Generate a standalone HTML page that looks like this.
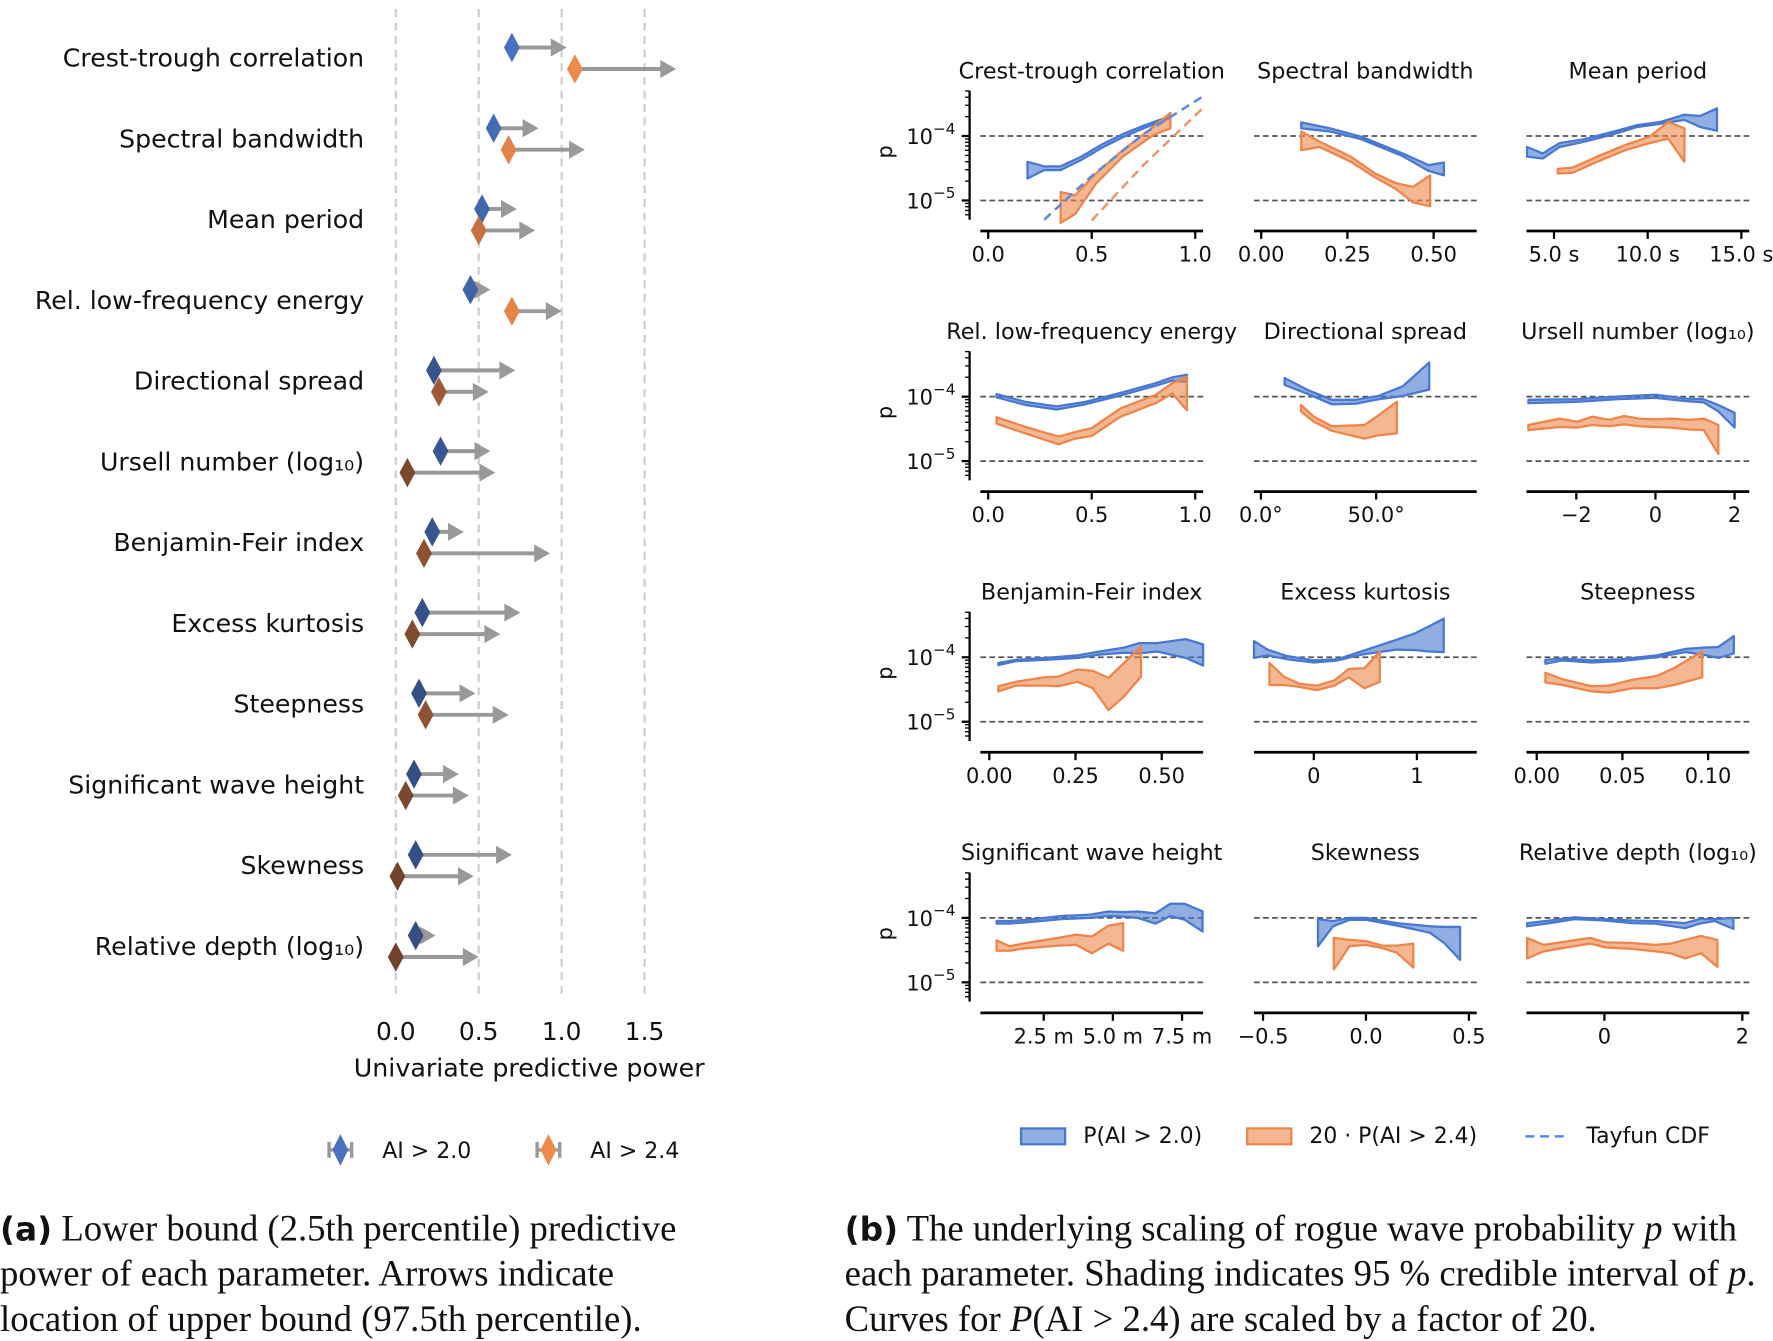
<!DOCTYPE html>
<html><head><meta charset="utf-8">
<style>
html,body{margin:0;padding:0;background:#fff;}
svg{display:block;}
text{font-family:"DejaVu Sans","Liberation Sans",sans-serif;fill:#111;}
.cap{font-family:"Liberation Serif",serif;font-size:32.5px;}
</style></head>
<body>
<svg id="fig" xmlns="http://www.w3.org/2000/svg" width="1773" height="1341" viewBox="0 0 1568 1186">
  <rect x="0" y="0" width="1568" height="1186" fill="#fff"/>
  <g>
    <g>
      <line x1="291" y1="1017" x2="311" y2="1017" stroke="#999" stroke-width="3"/>
      <line x1="291" y1="1010" x2="291" y2="1024" stroke="#999" stroke-width="3"/>
      <line x1="311" y1="1010" x2="311" y2="1024" stroke="#999" stroke-width="3"/>
      <polygon points="301,1003 308,1017 301,1031 294,1017" fill="#4a72c0"/>
      <text x="338" y="1024" font-size="19.5">AI &gt; 2.0</text>
    </g>
    <g>
      <line x1="475" y1="1017" x2="495" y2="1017" stroke="#999" stroke-width="3"/>
      <line x1="475" y1="1010" x2="475" y2="1024" stroke="#999" stroke-width="3"/>
      <line x1="495" y1="1010" x2="495" y2="1024" stroke="#999" stroke-width="3"/>
      <polygon points="485,1003 492,1017 485,1031 478,1017" fill="#ee8a4a"/>
      <text x="522" y="1024" font-size="19.5">AI &gt; 2.4</text>
    </g>
  </g>
  <g>
    <g>
      <rect x="903" y="998" width="39" height="14" fill="rgba(72,120,208,0.6)" stroke="#4878d0" stroke-width="2"/>
      <text x="958" y="1011" font-size="19.4">P(AI &gt; 2.0)</text>
    </g>
    <g>
      <rect x="1103" y="998" width="39" height="14" fill="rgba(238,133,74,0.6)" stroke="#ee854a" stroke-width="2"/>
      <text x="1158" y="1011" font-size="19.4">20 · P(AI &gt; 2.4)</text>
    </g>
    <g>
      <line x1="1349" y1="1005" x2="1388" y2="1005" stroke="#5b8be0" stroke-width="2.2" stroke-dasharray="8,5"/>
      <text x="1403" y="1011" font-size="19.4">Tayfun CDF</text>
    </g>
  </g>
  <g>
    <text class="cap" x="0" y="1097"><tspan font-family="DejaVu Sans, sans-serif" font-weight="bold" font-size="29">(a)</tspan> Lower bound (2.5th percentile) predictive</text>
    <text class="cap" x="0" y="1137">power of each parameter. Arrows indicate</text>
    <text class="cap" x="0" y="1177">location of upper bound (97.5th percentile).</text>
  </g>
  <g>
    <text class="cap" x="747" y="1097"><tspan font-family="DejaVu Sans, sans-serif" font-weight="bold" font-size="29">(b)</tspan> The underlying scaling of rogue wave probability <tspan font-style="italic">p</tspan> with</text>
    <text class="cap" x="747" y="1137">each parameter. Shading indicates 95 % credible interval of <tspan font-style="italic">p</tspan>.</text>
    <text class="cap" x="747" y="1177">Curves for <tspan font-style="italic">P</tspan>(AI &gt; 2.4) are scaled by a factor of 20.</text>
  </g>
</svg>
<script>
const paramLabels = ["Crest-trough correlation","Spectral bandwidth","Mean period","Rel. low-frequency energy","Directional spread","Ursell number (log₁₀)","Benjamin-Feir index","Excess kurtosis","Steepness","Significant wave height","Skewness","Relative depth (log₁₀)"];
const blueLow = [0.70,0.59,0.52,0.45,0.23,0.27,0.22,0.16,0.14,0.11,0.12,0.12];
const blueHigh = [1.03,0.86,0.73,0.57,0.72,0.57,0.41,0.75,0.48,0.38,0.70,0.24];
const orangeLow = [1.08,0.68,0.50,0.70,0.26,0.07,0.17,0.10,0.18,0.06,0.01,0.00];
const orangeHigh = [1.69,1.14,0.84,1.00,0.56,0.60,0.93,0.63,0.68,0.44,0.47,0.50];
const leftTicks = [0,0.5,1.0,1.5];
const leftTickLabels = ["0.0","0.5","1.0","1.5"];

const crestBX=[0.19,0.27,0.35,0.45,0.55,0.65,0.75,0.88];
const crestBU=[-4.40,-4.47,-4.47,-4.32,-4.13,-3.97,-3.84,-3.69];
const crestBL=[-4.66,-4.53,-4.53,-4.37,-4.18,-4.02,-3.88,-3.72];
const crestOX=[0.35,0.42,0.52,0.65,0.80,0.88];
const crestOU=[-4.87,-4.92,-4.58,-4.22,-3.85,-3.64];
const crestOL=[-5.35,-5.21,-4.74,-4.32,-3.98,-3.88];
const tayfunBX=[0.27,0.5,0.75,1.03];
const tayfunBY=[-5.30,-4.62,-3.97,-3.40];
const tayfunOX=[0.50,0.75,1.03];
const tayfunOY=[-5.31,-4.45,-3.59];

const specBX=[0.116,0.20,0.29,0.41,0.485,0.53];
const specBU=[-3.79,-3.88,-4.01,-4.27,-4.45,-4.41];
const specBL=[-3.88,-3.93,-4.05,-4.31,-4.54,-4.61];
const specOX=[0.116,0.17,0.26,0.33,0.39,0.44,0.49];
const specOU=[-3.93,-4.09,-4.32,-4.58,-4.73,-4.79,-4.61];
const specOL=[-4.22,-4.17,-4.40,-4.64,-4.82,-5.03,-5.09];

const periodBX=[3.56,4.4,5.3,6.6,8.2,9.45,10.7,11.96,12.8,13.7];
const periodBU=[-4.17,-4.27,-4.11,-4.05,-3.93,-3.83,-3.78,-3.67,-3.69,-3.57];
const periodBL=[-4.32,-4.35,-4.17,-4.09,-3.97,-3.86,-3.81,-3.75,-3.86,-3.92];
const periodOX=[5.2,6.0,7.3,8.8,10.1,11.1,11.96];
const periodOU=[-4.51,-4.49,-4.32,-4.14,-4.01,-3.78,-3.88];
const periodOL=[-4.58,-4.57,-4.40,-4.22,-4.11,-4.04,-4.40];

const lowfBX=[0.04,0.18,0.33,0.47,0.64,0.81,0.89,0.96];
const lowfBU=[-3.96,-4.08,-4.15,-4.08,-3.94,-3.79,-3.70,-3.66];
const lowfBL=[-4.01,-4.13,-4.20,-4.12,-3.98,-3.83,-3.75,-3.77];
const lowfOX=[0.04,0.18,0.34,0.42,0.50,0.64,0.81,0.89,0.96];
const lowfOU=[-4.32,-4.47,-4.62,-4.55,-4.49,-4.18,-3.97,-3.79,-3.69];
const lowfOL=[-4.42,-4.57,-4.74,-4.65,-4.61,-4.31,-4.10,-3.95,-4.21];

const dirBX=[10.3,20.5,30.8,41,51,61.5,73];
const dirBU=[-3.71,-3.90,-4.05,-4.05,-3.99,-3.84,-3.47];
const dirBL=[-3.82,-3.96,-4.12,-4.11,-4.04,-3.99,-3.89];
const dirOX=[17.4,23,30.8,44.9,51,59];
const dirOU=[-4.13,-4.31,-4.46,-4.44,-4.29,-4.08];
const dirOL=[-4.23,-4.39,-4.53,-4.65,-4.60,-4.57];

const ursBX=[-3.21,-2,-1,0,0.77,1.22,1.59,2];
const ursBU=[-4.05,-4.04,-4.00,-3.97,-4.03,-4.04,-4.13,-4.25];
const ursBL=[-4.10,-4.08,-4.04,-4.02,-4.07,-4.09,-4.23,-4.48];
const ursOX=[-3.21,-2.42,-1.98,-1.6,-1.16,-0.79,-0.42,0,0.4,0.85,1.22,1.59];
const ursOU=[-4.44,-4.34,-4.39,-4.31,-4.36,-4.30,-4.34,-4.35,-4.34,-4.36,-4.34,-4.44];
const ursOL=[-4.52,-4.47,-4.48,-4.44,-4.46,-4.43,-4.46,-4.47,-4.48,-4.51,-4.52,-4.89];

const bfiBX=[0.026,0.077,0.16,0.256,0.32,0.39,0.435,0.486,0.57,0.62];
const bfiBU=[-4.09,-4.04,-4.01,-3.97,-3.91,-3.85,-3.78,-3.78,-3.72,-3.80];
const bfiBL=[-4.12,-4.06,-4.04,-4.01,-3.96,-3.93,-3.94,-3.91,-4.01,-4.13];
const bfiOX=[0.026,0.077,0.16,0.20,0.256,0.30,0.346,0.39,0.44];
const bfiOU=[-4.45,-4.38,-4.31,-4.30,-4.19,-4.21,-4.32,-4.09,-3.83];
const bfiOL=[-4.53,-4.44,-4.44,-4.45,-4.38,-4.48,-4.82,-4.61,-4.30];

const kurtBX=[-0.58,-0.45,-0.26,0,0.23,0.46,0.80,0.98,1.12,1.26];
const kurtBU=[-3.75,-3.88,-3.98,-4.05,-4.03,-3.91,-3.73,-3.63,-3.52,-3.40];
const kurtBL=[-4.01,-3.97,-4.03,-4.08,-4.05,-3.96,-3.88,-3.89,-3.91,-3.92];
const kurtOX=[-0.43,-0.29,-0.14,0.03,0.2,0.34,0.49,0.64];
const kurtOU=[-4.09,-4.30,-4.41,-4.44,-4.36,-4.18,-4.17,-3.91];
const kurtOL=[-4.43,-4.43,-4.46,-4.51,-4.44,-4.31,-4.48,-4.38];

const steepBX=[0.005,0.015,0.032,0.049,0.070,0.087,0.097,0.106,0.115];
const steepBU=[-4.04,-4.02,-4.05,-4.03,-3.97,-3.87,-3.85,-3.84,-3.67];
const steepBL=[-4.10,-4.05,-4.08,-4.06,-4.00,-3.92,-3.96,-4.01,-3.94];
const steepOX=[0.005,0.015,0.032,0.042,0.056,0.070,0.080,0.0966];
const steepOU=[-4.24,-4.34,-4.45,-4.44,-4.35,-4.29,-4.17,-3.91];
const steepOL=[-4.39,-4.43,-4.53,-4.55,-4.48,-4.48,-4.43,-4.31];

const hsBX=[0.8,1.22,1.86,3.14,4.2,4.84,5.37,5.9,6.54,7.07,7.6,8.24];
const hsBU=[-4.05,-4.05,-4.03,-3.97,-3.95,-3.90,-3.91,-3.90,-3.93,-3.78,-3.78,-3.90];
const hsBL=[-4.09,-4.09,-4.07,-4.02,-4.00,-3.97,-3.98,-4.00,-4.09,-3.97,-4.03,-4.21];
const hsOX=[0.8,1.27,1.86,3.03,3.67,4.24,4.84,5.37];
const hsOU=[-4.35,-4.44,-4.39,-4.31,-4.26,-4.29,-4.12,-4.08];
const hsOL=[-4.51,-4.51,-4.47,-4.43,-4.42,-4.55,-4.40,-4.51];

const skewBX=[-0.233,-0.16,-0.08,0,0.15,0.31,0.38,0.457];
const skewBU=[-4.02,-4.05,-4.00,-4.00,-4.08,-4.13,-4.14,-4.14];
const skewBL=[-4.44,-4.13,-4.03,-4.03,-4.12,-4.23,-4.39,-4.65];
const skewOX=[-0.156,-0.08,0,0.08,0.15,0.23];
const skewOU=[-4.31,-4.34,-4.36,-4.43,-4.43,-4.40];
const skewOL=[-4.80,-4.44,-4.42,-4.47,-4.54,-4.77];

const depthBX=[-1.12,-0.79,-0.43,0,0.4,0.74,1.17,1.38,1.6,1.87];
const depthBU=[-4.08,-4.04,-3.99,-4.02,-4.04,-4.05,-4.08,-4.02,-4.02,-4.00];
const depthBL=[-4.13,-4.08,-4.02,-4.04,-4.08,-4.09,-4.16,-4.09,-4.05,-4.17];
const depthOX=[-1.12,-0.88,-0.45,-0.2,0.02,0.4,0.74,0.96,1.17,1.4,1.64];
const depthOU=[-4.31,-4.42,-4.35,-4.31,-4.38,-4.39,-4.42,-4.40,-4.34,-4.28,-4.34];
const depthOL=[-4.63,-4.52,-4.44,-4.40,-4.46,-4.48,-4.52,-4.55,-4.63,-4.55,-4.76];

const panelTitles=["Crest-trough correlation","Spectral bandwidth","Mean period","Rel. low-frequency energy","Directional spread","Ursell number (log₁₀)","Benjamin-Feir index","Excess kurtosis","Steepness","Significant wave height","Skewness","Relative depth (log₁₀)"];
const panelTicks=[[0,0.5,1],[0,0.25,0.5],[5,10,15],[0,0.5,1],[0,50],[-2,0,2],[0,0.25,0.5],[0,1],[0,0.05,0.1],[2.5,5,7.5],[-0.5,0,0.5],[0,2]];
const panelTickLabels=[["0.0","0.5","1.0"],["0.00","0.25","0.50"],["5.0 s","10.0 s","15.0 s"],["0.0","0.5","1.0"],["0.0°","50.0°"],["−2","0","2"],["0.00","0.25","0.50"],["0","1"],["0.00","0.05","0.10"],["2.5 m","5.0 m","7.5 m"],["−0.5","0.0","0.5"],["0","2"]];
const panelBlue=[[crestBX,crestBU,crestBL],[specBX,specBU,specBL],[periodBX,periodBU,periodBL],[lowfBX,lowfBU,lowfBL],[dirBX,dirBU,dirBL],[ursBX,ursBU,ursBL],[bfiBX,bfiBU,bfiBL],[kurtBX,kurtBU,kurtBL],[steepBX,steepBU,steepBL],[hsBX,hsBU,hsBL],[skewBX,skewBU,skewBL],[depthBX,depthBU,depthBL]];
const panelOrange=[[crestOX,crestOU,crestOL],[specOX,specOU,specOL],[periodOX,periodOU,periodOL],[lowfOX,lowfOU,lowfOL],[dirOX,dirOU,dirOL],[ursOX,ursOU,ursOL],[bfiOX,bfiOU,bfiOL],[kurtOX,kurtOU,kurtOL],[steepOX,steepOU,steepOL],[hsOX,hsOU,hsOL],[skewOX,skewOU,skewOL],[depthOX,depthOU,depthOL]];
const panelDomains=[[-0.038,1.038],[-0.021,0.625],[3.53,15.42],[-0.038,1.038],[-3,93.6],[-3.26,2.37],[-0.026,0.62],[-0.58,1.58],[-0.006,0.124],[0.21,8.26],[-0.544,0.538],[-1.13,2.1]];

const NS='http://www.w3.org/2000/svg';
const svg=document.getElementById('fig');
function mk(tag, attrs, parent){const e=document.createElementNS(NS,tag);for(const k in attrs)e.setAttribute(k,attrs[k]);(parent||svg).appendChild(e);return e;}
function lerp(a,b,t){return Math.round(a+(b-a)*t);}
function mix(c1,c2,t){return `rgb(${lerp(c1[0],c2[0],t)},${lerp(c1[1],c2[1],t)},${lerp(c1[2],c2[2],t)})`;}

const leftX = v => 350 + v*146.7;
const rowY = i => 52 + i*71.4;
const left = mk('g',{});


leftTicks.forEach((t,k)=>{
  const g=mk('line',{x1:leftX(t),x2:leftX(t),y1:8,y2:884,stroke:'#cfcfcf','stroke-width':2,'stroke-dasharray':'7,5'},left);
  
  
  const tl=mk('text',{x:leftX(t),y:920,'font-size':22,'text-anchor':'middle'},left);
  tl.textContent=leftTickLabels[k];
  
  
});
const xt=mk('text',{x:468,y:952,'font-size':22.4,'text-anchor':'middle'},left);
xt.textContent='Univariate predictive power';



function drawEntry(i, lo, hi, y, colLo, colHi, name){
  const g=mk('g',{},left);
  
  
  const xl=leftX(lo), xh=leftX(hi);
  mk('line',{x1:xl,x2:xh-12,y1:y,y2:y,stroke:'#999','stroke-width':3.5},g);
  mk('polygon',{points:`${xh},${y} ${xh-14},${y-8} ${xh-14},${y+8}`,fill:'#999'},g);
  const t=Math.max(0,Math.min(1,lo/0.75));
  mk('polygon',{points:`${xl},${y-13} ${xl+7},${y} ${xl},${y+13} ${xl-7},${y}`,fill:mix(colLo,colHi,t)},g);
}
paramLabels.forEach((lab,i)=>{
  const y=rowY(i);
  const tx=mk('text',{x:322,y:y+7,'font-size':22.3,'text-anchor':'end'},left);
  tx.textContent=lab;
  
  
  drawEntry(i,blueLow[i],blueHigh[i],y-10,[48,72,120],[74,116,196],'blue-marker-row-'+i);
  drawEntry(i,orangeLow[i],orangeHigh[i],y+9,[112,66,44],[238,138,74],'orange-marker-row-'+i);
});

const colL=[867,1109,1350];
function band(g,X,Y,xs,up,lo,fill,edge,name){
  let pts=[];
  for(let k=0;k<xs.length;k++)pts.push(X(xs[k]).toFixed(1)+','+Y(up[k]).toFixed(1));
  for(let k=xs.length-1;k>=0;k--)pts.push(X(xs[k]).toFixed(1)+','+Y(lo[k]).toFixed(1));
  const p=mk('polygon',{points:pts.join(' '),fill:fill,stroke:edge,'stroke-width':2,'stroke-linejoin':'round'},g);
  
  
}
function line(g,X,Y,xs,ys,col,name){
  const pts=xs.map((x,k)=>X(x).toFixed(1)+','+Y(ys[k]).toFixed(1)).join(' ');
  const p=mk('polyline',{points:pts,fill:'none',stroke:col,'stroke-width':2.2,'stroke-dasharray':'8,5'},g);
  
  
}
for(let k=0;k<12;k++){
  const r=Math.floor(k/3), c=k%3;
  const L=colL[c], R=L+197, base=120.3+r*230.5;
  const dom=panelDomains[k];
  const X=v=>L+(v-dom[0])/(dom[1]-dom[0])*197;
  const Y=lv=>base-(lv+4)*57;
  const g=mk('g',{});
  
  
  const tt=mk('text',{x:(L+R)/2,y:base-51,'font-size':19.7,'text-anchor':'middle'},g);
  tt.textContent=panelTitles[k];
  
  
  [-4,-5].forEach(lv=>{
    const d=mk('line',{x1:L,x2:R,y1:Y(lv),y2:Y(lv),stroke:'#555','stroke-width':1.5,'stroke-dasharray':'5,3'},g);
    
    
  });
  const ax=mk('line',{x1:L,x2:R,y1:base+84,y2:base+84,stroke:'#000','stroke-width':2.5},g);
  
  
  panelTicks[k].forEach((t,j)=>{
    mk('line',{x1:X(t),x2:X(t),y1:base+84,y2:base+91,stroke:'#000','stroke-width':2},g);
    const tl=mk('text',{x:X(t),y:base+111,'font-size':18.5,'text-anchor':'middle'},g);
    tl.textContent=panelTickLabels[k][j];
    
    
  });
  if(c===0){
    const sp=mk('line',{x1:857.5,x2:857.5,y1:base-40,y2:base+74,stroke:'#000','stroke-width':2},g);
    
    
    for(let d=-6;d<=-3;d++){for(let m=2;m<=9;m++){const lv=d+Math.log10(m);if(lv>-5.3&&lv<-3.3){mk('line',{x1:853.5,x2:857.5,y1:Y(lv),y2:Y(lv),stroke:'#000','stroke-width':1.2},g);}}}
    [-4,-5].forEach(lv=>{
      mk('line',{x1:850.5,x2:857.5,y1:Y(lv),y2:Y(lv),stroke:'#000','stroke-width':2},g);
      const yl=mk('text',{x:845,y:Y(lv)+7,'font-size':18.5,'text-anchor':'end'},g);
      yl.innerHTML='10<tspan dy="-9" font-size="13.5">−'+(-lv)+'</tspan>';
      
      
    });
    const pl=mk('text',{x:0,y:0,'font-size':18.5,'text-anchor':'middle',transform:`translate(789,${base+14}) rotate(-90)`},g);
    pl.textContent='p';
    
    
  }
  const b=panelBlue[k], o=panelOrange[k];
  band(g,X,Y,b[0],b[1],b[2],'rgba(72,120,208,0.6)','#4878d0','band-p-ai-2.0');
  band(g,X,Y,o[0],o[1],o[2],'rgba(238,133,74,0.6)','#ee854a','band-20-p-ai-2.4');
  if(k===0){
    line(g,X,Y,tayfunBX,tayfunBY,'#5b8be0','tayfun-cdf-2.0');
    line(g,X,Y,tayfunOX,tayfunOY,'#f0956a','tayfun-cdf-2.4');
  }
}
</script>
</body></html>
